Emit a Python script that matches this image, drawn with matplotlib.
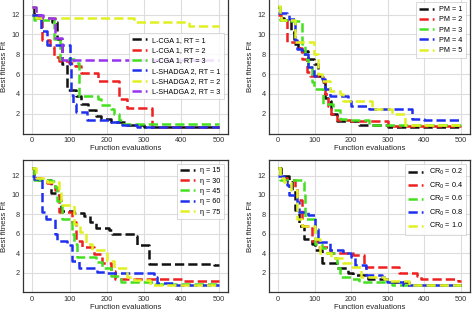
import numpy as np
import matplotlib.pyplot as plt

plt.rcParams['font.family'] = ['Liberation Sans', 'DejaVu Sans']

# colours used in every panel
cols = ['#111111', '#ee2020', '#44e020', '#1f2fee', '#e0f020', '#9933ee']

# ---- panel 1: L-CGA / L-SHADGA, RT
p1_labels = ['L-CGA 1, RT = 1', 'L-CGA 1, RT = 2', 'L-CGA 1, RT = 3',
             'L-SHADGA 2, RT = 1', 'L-SHADGA 2, RT = 2', 'L-SHADGA 2, RT = 3']
p1_x = [
    [0, 5, 54, 67, 80, 94, 116, 130, 150, 170, 183, 210, 250, 300, 500],
    [0, 25, 48, 58, 72, 98, 115, 130, 175, 232, 254, 321, 500],
    [0, 5, 58, 75, 90, 112, 125, 175, 183, 210, 220, 232, 240, 500],
    [0, 22, 40, 100, 104, 110, 118, 147, 210, 240, 280, 500],
    [0, 10, 272, 420, 500],
    [0, 10, 30, 62, 80, 500],
]
p1_y = [
    [12.8, 11.7, 11.3, 9.5, 7.0, 4.4, 3.8, 3.0, 2.4, 1.8, 1.5, 1.2, 0.9, 0.7, 0.7],
    [12.0, 9.4, 8.7, 7.7, 7.3, 7.1, 6.8, 6.1, 5.3, 3.5, 2.6, 0.7, 0.7],
    [12.0, 11.5, 9.5, 7.5, 7.5, 7.1, 3.8, 3.5, 2.9, 2.5, 2.0, 1.4, 1.0, 1.0],
    [12.0, 10.3, 8.9, 7.0, 3.9, 3.0, 2.2, 1.4, 1.2, 0.9, 0.7, 0.7],
    [12.8, 11.65, 11.3, 10.9, 10.9],
    [12.8, 12.0, 11.7, 9.6, 7.45, 7.45],
]

# ---- panel 2: PM
p2_labels = ['PM = 1', 'PM = 2', 'PM = 3', 'PM = 4', 'PM = 5']
p2_x = [
    [0, 5, 16, 34, 43, 55, 83, 97, 110, 120, 128, 141, 146, 160, 220, 300, 500],
    [0, 7, 25, 56, 65, 79, 88, 123, 128, 137, 146, 160, 200, 300, 500],
    [0, 5, 34, 65, 74, 83, 92, 97, 124, 150, 168, 186, 250, 500],
    [0, 25, 30, 47, 52, 65, 83, 97, 119, 128, 141, 190, 200, 250, 365, 400, 500],
    [0, 5, 7, 47, 97, 110, 119, 141, 168, 177, 257, 312, 348, 500],
]
p2_y = [
    [12.8, 11.7, 11.5, 10.2, 9.0, 8.3, 7.5, 7.0, 5.8, 5.2, 3.6, 3.3, 2.0, 1.3, 0.9, 0.7, 0.7],
    [12.0, 11.5, 9.2, 8.6, 7.5, 6.2, 5.8, 5.3, 4.0, 2.8, 2.0, 1.4, 1.3, 0.8, 0.8],
    [12.8, 11.5, 11.4, 9.0, 7.5, 6.7, 5.2, 4.5, 3.0, 2.4, 1.5, 1.4, 0.9, 0.9],
    [12.2, 12.0, 11.6, 9.4, 8.5, 8.0, 6.7, 5.8, 5.5, 4.5, 3.8, 3.3, 2.8, 2.5, 1.5, 1.4, 1.4],
    [12.9, 11.9, 11.5, 9.2, 8.0, 6.0, 5.3, 4.3, 4.0, 3.3, 2.5, 2.0, 0.9, 0.9],
]

# ---- panel 3: eta
p3_labels = ['η = 15', 'η = 30', 'η = 45', 'η = 60', 'η = 75']
p3_x = [
    [0, 5, 14, 49, 71, 76, 112, 138, 156, 170, 205, 214, 277, 281, 313, 487, 500],
    [0, 5, 22, 40, 62, 71, 107, 116, 134, 165, 187, 210, 223, 406, 500],
    [0, 5, 49, 62, 67, 80, 107, 112, 121, 170, 188, 210, 237, 326, 500],
    [0, 5, 27, 36, 62, 67, 94, 107, 125, 174, 196, 326, 335, 380, 500],
    [0, 10, 40, 71, 76, 112, 129, 143, 160, 201, 219, 254, 272, 317, 500],
]
p3_y = [
    [12.8, 11.7, 11.5, 10.2, 9.5, 8.3, 8.1, 7.8, 7.2, 6.6, 6.4, 6.0, 5.8, 4.8, 2.9, 2.8, 2.8],
    [12.8, 11.8, 11.5, 11.2, 10.5, 8.2, 7.2, 5.3, 4.6, 3.9, 3.0, 2.2, 1.3, 1.1, 1.1],
    [12.8, 11.5, 11.4, 10.8, 9.4, 7.5, 6.0, 5.0, 3.6, 3.1, 2.5, 1.7, 1.0, 0.8, 0.8],
    [12.0, 11.6, 8.2, 7.5, 6.0, 5.3, 4.8, 3.2, 2.5, 2.1, 2.0, 1.5, 0.9, 0.7, 0.7],
    [12.8, 11.8, 11.3, 10.5, 9.0, 7.0, 6.2, 5.0, 4.3, 3.2, 2.5, 1.6, 1.2, 0.7, 0.7],
]

# ---- panel 4: CR0
p4_labels = ['CR$_0$ = 0.2', 'CR$_0$ = 0.4', 'CR$_0$ = 0.6', 'CR$_0$ = 0.8', 'CR$_0$ = 1.0']
p4_x = [
    [0, 7, 30, 38, 47, 56, 70, 92, 101, 119, 160, 190, 204, 245, 307, 357, 500],
    [0, 5, 25, 47, 52, 65, 92, 110, 141, 204, 236, 330, 380, 392, 491, 500],
    [0, 5, 65, 70, 74, 101, 119, 133, 155, 160, 168, 200, 222, 312, 500],
    [0, 16, 25, 30, 52, 56, 83, 101, 110, 142, 177, 200, 209, 240, 285, 298, 343, 500],
    [0, 5, 16, 34, 52, 65, 101, 115, 146, 177, 200, 227, 290, 303, 357, 500],
]
p4_y = [
    [12.8, 12.0, 11.5, 10.5, 8.5, 6.8, 5.5, 5.0, 4.3, 3.0, 2.5, 2.0, 1.8, 1.3, 1.0, 0.7, 0.7],
    [12.8, 11.8, 11.5, 10.8, 9.5, 6.8, 5.3, 4.6, 4.0, 3.8, 2.6, 2.0, 1.7, 1.3, 1.1, 1.1],
    [12.8, 11.5, 11.3, 10.0, 7.5, 5.0, 4.5, 4.0, 3.5, 2.5, 1.6, 1.3, 1.0, 0.7, 0.7],
    [12.0, 11.8, 11.0, 10.0, 9.3, 8.2, 7.9, 6.5, 5.2, 4.3, 4.0, 3.6, 2.8, 1.8, 1.6, 1.0, 0.7, 0.7],
    [12.8, 11.8, 11.3, 10.5, 7.5, 6.8, 5.5, 4.0, 3.5, 3.0, 2.6, 1.6, 1.3, 1.1, 0.7, 0.7],
]

panels = [
    (p1_x, p1_y, p1_labels, 'center right', [0.0485, 0.572, 0.4325, 0.432]),
    (p2_x, p2_y, p2_labels, 'upper right', [0.5675, 0.572, 0.424, 0.432]),
    (p3_x, p3_y, p3_labels, 'upper right', [0.0485, 0.064, 0.4325, 0.423]),
    (p4_x, p4_y, p4_labels, 'upper right', [0.5675, 0.064, 0.424, 0.423]),
]

fig = plt.figure(figsize=(4.74, 3.12), dpi=100)
for xs, ys, labels, loc, pos in panels:
    ax = fig.add_axes(pos)
    for i in range(len(xs)):
        ax.plot(xs[i], ys[i], drawstyle='steps-post', ls='--', lw=1.8,
                color=cols[i], label=labels[i])
    ax.set_xlim(-25, 525)
    ax.set_ylim(0, 13.6)
    ax.set_xticks([0, 100, 200, 300, 400, 500])
    ax.set_yticks([2, 4, 6, 8, 10, 12])
    ax.grid(True, color='#dddddd', lw=0.8)
    ax.set_axisbelow(True)
    for s in ax.spines.values():
        s.set_color('#333333')
        s.set_linewidth(0.9)
    ax.tick_params(length=0, pad=2.5, labelsize=5.3, colors='#333333')
    ax.set_xlabel('Function evaluations', fontsize=5.6, color='#222222', labelpad=1)
    ax.set_ylabel('Best fitness Fit', fontsize=5.6, color='#222222', labelpad=2)
    leg = ax.legend(loc=loc, fontsize=5.2, handlelength=2.0, framealpha=0.85,
                    edgecolor='#cccccc', fancybox=False, borderpad=0.5,
                    labelspacing=0.45, handletextpad=0.8)
    leg.get_frame().set_linewidth(0.6)

fig.savefig('out.png', dpi=100)
